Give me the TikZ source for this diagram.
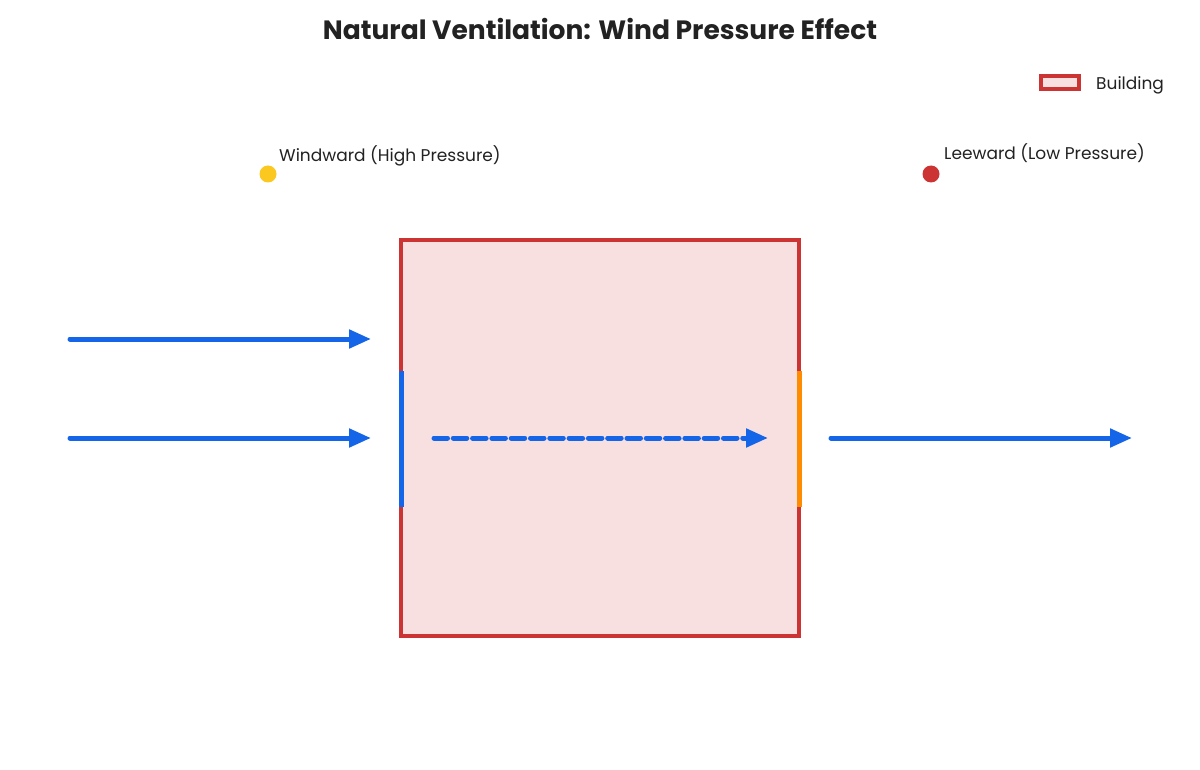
\documentclass[tikz,border=0pt]{standalone}
\usepackage{fontspec}
\setmainfont{Poppins}
\usetikzlibrary{arrows.meta}
\definecolor{windblue}{RGB}{21,101,232}
\definecolor{bred}{RGB}{204,51,51}
\definecolor{bfill}{RGB}{248,224,224}
\definecolor{dotyellow}{RGB}{250,200,30}
\definecolor{worange}{RGB}{255,140,0}
\definecolor{txt}{RGB}{34,34,34}
\tikzset{
  wind/.style={draw=windblue, line width=5pt, -{Triangle[length=22pt,width=18pt]}},
  lbl/.style={text=txt, font=\fontsize{17}{20}\selectfont, inner sep=0pt, anchor=west},
  dot/.style={circle, minimum size=17pt, inner sep=0pt},
}
\begin{document}
\begin{tikzpicture}[x=1pt,y=-1pt]
\useasboundingbox (0,0) rectangle (1200,770);
\fill[white] (0,0) rectangle (1200,770);
\node[text=txt, font=\bfseries\fontsize{26.5}{30}\selectfont] (title) at (600,29) {Natural Ventilation: Wind Pressure Effect};
% legend
\node[draw=bred, fill=bfill, line width=4pt, minimum width=38pt, minimum height=13pt, inner sep=0pt] (legbox) at (1060,83) {};
\node[lbl] (legtxt) at (1096,85) {Building};
% pressure markers
\node[dot, fill=dotyellow] (ydot) at (268,174) {};
\node[lbl] (wtxt) at (279,156) {Windward (High Pressure)};
\node[dot, fill=bred] (rdot) at (931,174) {};
\node[lbl] (ltxt) at (944,153) {Leeward (Low Pressure)};
% building
\node[draw=bred, fill=bfill, line width=4pt, minimum width=398pt, minimum height=396pt, inner sep=0pt] (bld) at (600,438) {};
\draw[windblue, line width=5pt] (401,371) coordinate (wl1) -- (401,507) coordinate (wl2);
\draw[worange, line width=5pt] (799,371) coordinate (wr1) -- (799,507) coordinate (wr2);
% wind arrows
\coordinate (a1s) at (70,339); \coordinate (a1e) at (371,339);
\coordinate (a2s) at (70,438); \coordinate (a2e) at (371,438);
\coordinate (a3s) at (831,438); \coordinate (a3e) at (1132,438);
\coordinate (a4s) at (434,438); \coordinate (a4e) at (768,438);
\draw[wind, line cap=round] (a1s) -- (a1e);
\draw[wind, line cap=round] (a2s) -- (a2e);
\draw[wind, line cap=round] (a3s) -- (a3e);
\draw[wind, line cap=round, dash pattern=on 13.5pt off 5.8pt] (a4s) -- (a4e);
\end{tikzpicture}
\end{document}
